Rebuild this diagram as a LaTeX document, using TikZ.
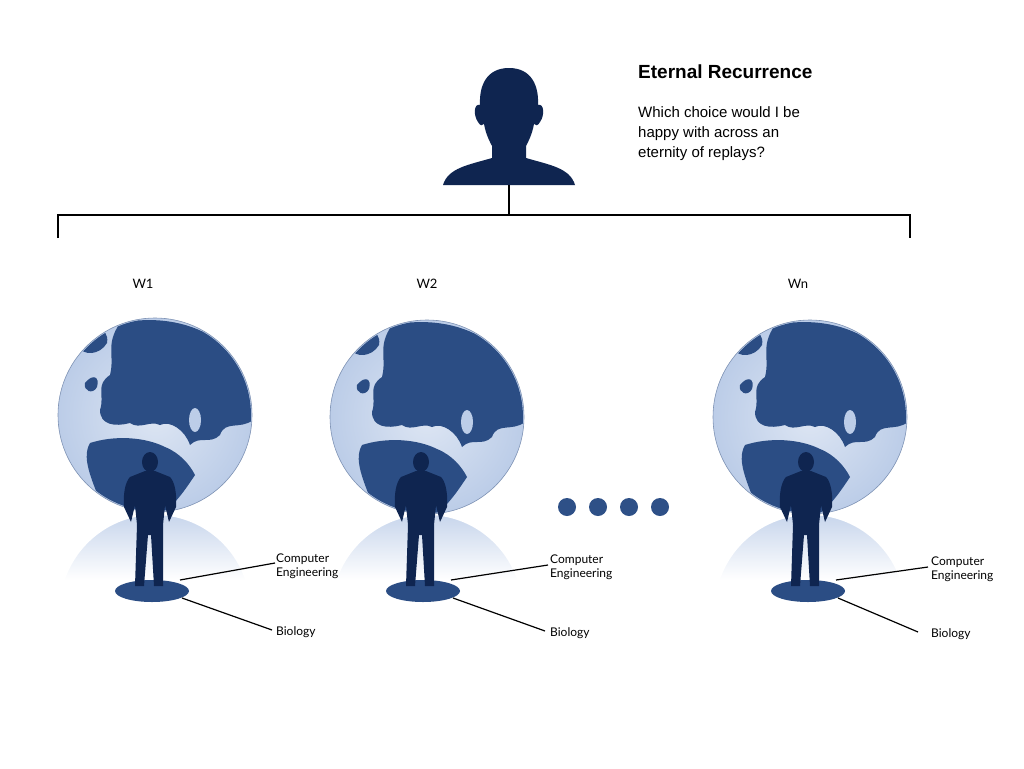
\documentclass[tikz,border=0pt]{standalone}
\usepackage{fontspec}
\setmainfont{Liberation Sans}
\newfontfamily\lab{Lato}
\definecolor{navy}{HTML}{0F2550}
\definecolor{land}{HTML}{2B4D84}
\definecolor{sea}{HTML}{B0C4E4}
\definecolor{dot}{HTML}{2E5087}
\begin{document}
\begin{tikzpicture}[x=1pt,y=-1pt,
  lbl/.style={font=\lab\fontsize{12}{13.5}\selectfont,anchor=west,align=left,inner sep=1pt},
  conn/.style={line width=1.2pt,black}]
\useasboundingbox (0,0) rectangle (1024,768);
\fill[white] (0,0) rectangle (1024,768);
% head silhouette
\fill[navy] (509,68) .. controls (487,68) and (479,85) .. (480,105)
  .. controls (474,103) and (473,115) .. (478,122) .. controls (480,126) and (483,126) .. (484,124)
  .. controls (486,135) and (490,142) .. (492,146) -- (492,158)
  .. controls (468,165) and (448,168) .. (443,185) -- (575,185)
  .. controls (570,168) and (550,165) .. (526,158) -- (526,146)
  .. controls (528,142) and (532,135) .. (534,124) .. controls (535,126) and (538,126) .. (540,122)
  .. controls (545,115) and (544,103) .. (538,105) .. controls (539,85) and (531,68) .. (509,68) -- cycle;
\coordinate (headb) at (509,185);
\coordinate (bm) at (509,215);
\coordinate (bl) at (58,215);
\coordinate (br) at (910,215);
\coordinate (bld) at (58,238);
\coordinate (brd) at (910,238);
\draw[line width=1.5pt] (headb) -- (bm) (bld) -- (bl) -- (br) -- (brd);
\node[anchor=west,font=\bfseries\fontsize{19}{21}\selectfont,inner sep=0pt] (title) at (638,72) {Eternal Recurrence};
\node[anchor=north west,align=left,font=\fontsize{15}{20}\selectfont,inner sep=0pt] (q) at (638,106) {Which choice would I be\\happy with across an\\eternity of replays?};
% dots
\foreach \x [count=\i] in {567,598,629,660} \fill[dot] (\x,507) circle (9) node (d\i) {};
% worlds
\foreach \cx/\cy/\px/\w/\nm/\wx in {155/415/150/W1/a/143, 427/417/421/W2/b/427, 810/417/806/Wn/c/798}{
  \node[font=\lab\fontsize{13}{14}\selectfont] (w\nm) at (\wx,284) {\w};
  % reflection
  \begin{scope}
    \clip (\cx-100,505) rectangle (\cx+100,580);
    \shade[top color=sea!70,bottom color=white] (\cx-95,515) rectangle (\cx+95,580);
    \fill[white] (\cx-120,610) circle (0) ;
  \end{scope}
  \begin{scope}
    \clip (\cx-100,505) rectangle (\cx+100,600);
    \fill[white,even odd rule] (\cx-110,500) rectangle (\cx+110,610) (\cx,610) circle (95);
  \end{scope}
  % globe
  \fill[sea!85] (\cx,\cy) circle (97);
  \shade[inner color=white,outer color=sea!85,opacity=0.5] (\cx,\cy) circle (97);
  \begin{scope}
    \clip (\cx,\cy) circle (96);
    % Eurasia
    \fill[land] (\cx-35,\cy-92) .. controls (\cx+30,\cy-105) and (\cx+100,\cy-75) .. (\cx+98,\cy+5)
      .. controls (\cx+85,\cy+15) and (\cx+70,\cy+5) .. (\cx+65,\cy+20)
      .. controls (\cx+55,\cy+30) and (\cx+45,\cy+20) .. (\cx+35,\cy+30)
      .. controls (\cx+30,\cy+15) and (\cx+15,\cy+5) .. (\cx+5,\cy+10)
      .. controls (\cx-5,\cy+5) and (\cx-15,\cy+15) .. (\cx-25,\cy+8)
      .. controls (\cx-40,\cy+12) and (\cx-55,\cy+10) .. (\cx-55,\cy-5)
      .. controls (\cx-50,\cy-20) and (\cx-60,\cy-30) .. (\cx-45,\cy-40)
      .. controls (\cx-40,\cy-60) and (\cx-50,\cy-70) .. (\cx-35,\cy-92) -- cycle;
    % Africa
    \fill[land] (\cx-65,\cy+28) .. controls (\cx-40,\cy+20) and (\cx-10,\cy+22) .. (\cx+10,\cy+32)
      .. controls (\cx+25,\cy+38) and (\cx+35,\cy+50) .. (\cx+40,\cy+60)
      .. controls (\cx+30,\cy+75) and (\cx+20,\cy+90) .. (\cx+5,\cy+100)
      -- (\cx-50,\cy+100) .. controls (\cx-60,\cy+70) and (\cx-75,\cy+45) .. (\cx-65,\cy+28) -- cycle;
    % Greenland / islands
    \fill[land] (\cx-78,\cy-70) .. controls (\cx-65,\cy-88) and (\cx-45,\cy-90) .. (\cx-48,\cy-72)
      .. controls (\cx-55,\cy-60) and (\cx-72,\cy-58) .. (\cx-78,\cy-70) -- cycle;
    \fill[land] (\cx-70,\cy-32) .. controls (\cx-62,\cy-42) and (\cx-55,\cy-38) .. (\cx-58,\cy-28)
      .. controls (\cx-62,\cy-20) and (\cx-72,\cy-24) .. (\cx-70,\cy-32) -- cycle;
    \fill[sea!85] (\cx+40,\cy+5) ellipse (6 and 12);
  \end{scope}
  \draw[land!60,line width=0.6pt] (\cx,\cy) circle (97);
  % base
  \fill[land] (\px+2,591) ellipse (37 and 11);
  \node (base\nm) at (\px+2,591) {};
  % person
  \fill[navy] (\px,462) ellipse (8 and 10);
  \fill[navy] (\px-5,471) -- (\px+5,471) -- (\px+20,477) .. controls (\px+25,482) and (\px+27,495) .. (\px+26,507) -- (\px+19,522) -- (\px+15,505) -- (\px+13,525)
    -- (\px+13,586) -- (\px+4,586) -- (\px+1,535) -- (\px-2,535) -- (\px-6,586) -- (\px-15,586) -- (\px-13,525)
    -- (\px-15,505) -- (\px-19,522) -- (\px-26,507) .. controls (\px-27,495) and (\px-25,482) .. (\px-20,477) -- cycle;
  \coordinate (ce\nm) at (\px+30,580);
  \coordinate (bi\nm) at (\px+32,598);
}
\node[lbl] (tca) at (275,566) {Computer\\Engineering};
\node[lbl] (tba) at (275,632) {Biology};
\node[lbl] (tcb) at (549,567) {Computer\\Engineering};
\node[lbl] (tbb) at (549,633) {Biology};
\node[lbl] (tcc) at (930,569) {Computer\\Engineering};
\node[lbl] (tbc) at (930,634) {Biology};
\draw[conn] (cea) -- (275,563) (bia) -- (272,630);
\draw[conn] (ceb) -- (548,565) (bib) -- (545,631);
\draw[conn] (cec) -- (928,567) (bic) -- (918,632);
\end{tikzpicture}
\end{document}
